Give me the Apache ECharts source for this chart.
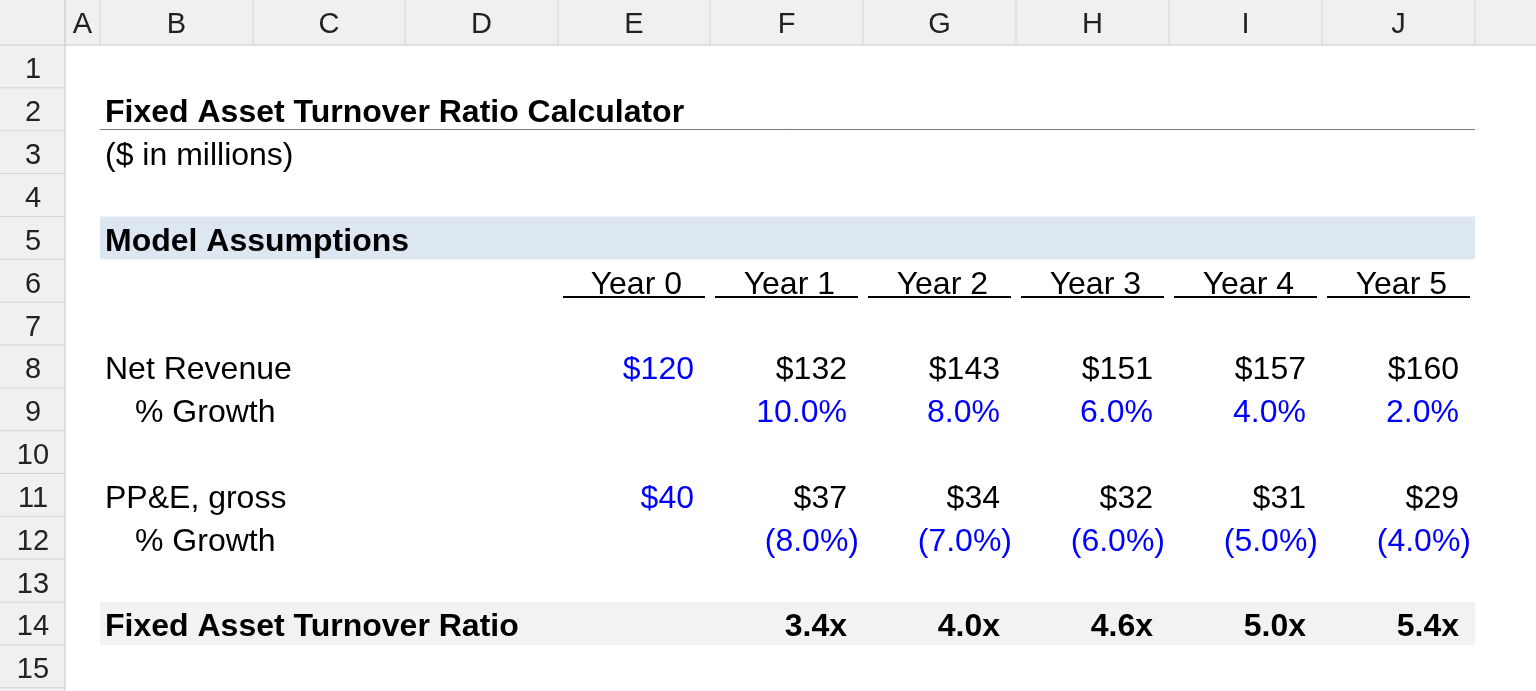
<!DOCTYPE html>
<html>
<head>
<meta charset="UTF-8">
<script src="https://cdn.jsdelivr.net/npm/echarts@6/dist/echarts.min.js"></script>
<style>html,body{margin:0;background:#fff}#c{width:1536px;height:691px}</style>
</head>
<body>
<div id="c"></div>
<script>
// 数据
const colLetters = ['A','B','C','D','E','F','G','H','I','J'];
const years = ['Year 0','Year 1','Year 2','Year 3','Year 4','Year 5'];
const revenue = ['$120','$132','$143','$151','$157','$160'];
const revGrowth = ['','10.0%','8.0%','6.0%','4.0%','2.0%'];
const ppe = ['$40','$37','$34','$32','$31','$29'];
const ppeGrowth = ['','(8.0%)','(7.0%)','(6.0%)','(5.0%)','(4.0%)'];
const turnover = ['','3.4x','4.0x','4.6x','5.0x','5.4x'];

// 网格尺寸
const colEdges = [65,100,253,405,558,710,863,1016,1169,1322,1475];
const headH = 45, rowH = 42.85, font = 'Liberation Sans, Arial, sans-serif';
const rowTop = r => headH + (r - 1) * rowH;
const rowMid = r => rowTop(r) + rowH / 2 + 4;

const g = [];
// 背景条
g.push({type:'rect', shape:{x:100,y:rowTop(5),width:1375,height:rowH}, style:{fill:'#dde7f1'}});
g.push({type:'rect', shape:{x:100,y:rowTop(14),width:1375,height:rowH}, style:{fill:'#f2f2f2'}});
// 表头
g.push({type:'rect', shape:{x:0,y:0,width:1536,height:headH}, style:{fill:'#f0f0f0'}});
g.push({type:'rect', shape:{x:0,y:0,width:65,height:691}, style:{fill:'#f0f0f0'}});
g.push({type:'line', shape:{x1:0,y1:headH,x2:1536,y2:headH}, style:{stroke:'#c8c8c8',lineWidth:1}});
g.push({type:'line', shape:{x1:65,y1:0,x2:65,y2:691}, style:{stroke:'#c8c8c8',lineWidth:1}});
colEdges.forEach(x => g.push({type:'line', shape:{x1:x,y1:0,x2:x,y2:headH}, style:{stroke:'#d4d4d4',lineWidth:1}}));
colLetters.forEach((c, i) => g.push({type:'text', x:(colEdges[i]+colEdges[i+1])/2, y:headH/2 + 2,
  style:{text:c, font:'29px '+font, fill:'#222', align:'center', verticalAlign:'middle'}}));
for (let r = 1; r <= 15; r++) {
  g.push({type:'line', shape:{x1:0,y1:rowTop(r+1),x2:65,y2:rowTop(r+1)}, style:{stroke:'#d4d4d4',lineWidth:1}});
  g.push({type:'text', x:33, y:rowMid(r), style:{text:String(r), font:'29px '+font, fill:'#222', align:'center', verticalAlign:'middle'}});
}

const txt = (t, x, y, opt) => g.push({type:'text', x, y, style:Object.assign({text:t, font:'32px '+font, fill:'#000', align:'left', verticalAlign:'middle'}, opt||{})});

txt('Fixed Asset Turnover Ratio Calculator', 105, rowMid(2), {font:'bold 32px '+font});
g.push({type:'line', shape:{x1:100,y1:129.5,x2:1475,y2:129.5}, style:{stroke:'#777',lineWidth:1}});
txt('($ in millions)', 105, rowMid(3));
txt('Model Assumptions', 105, rowMid(5), {font:'bold 32px '+font});
txt('Net Revenue', 105, rowMid(8));
txt('% Growth', 135, rowMid(9));
txt('PP&E, gross', 105, rowMid(11));
txt('% Growth', 135, rowMid(12));
txt('Fixed Asset Turnover Ratio', 105, rowMid(14), {font:'bold 32px '+font});

const cell = (t, i, r, color, bold) => {
  if (!t) return;
  const right = colEdges[i + 5];
  const x = t.startsWith('(') ? right - 4 : right - 16;
  txt(t, x, rowMid(r), {align:'right', fill:color, font:(bold ? 'bold ' : '') + '32px ' + font});
};
years.forEach((y, i) => {
  const l = colEdges[i + 4], rgt = colEdges[i + 5];
  txt(y, rgt - 28, rowMid(6), {align:'right'});
  g.push({type:'line', shape:{x1:l+5,y1:297,x2:rgt-5,y2:297}, style:{stroke:'#000',lineWidth:2}});
  cell(revenue[i], i, 8, i === 0 ? '#0000ff' : '#000');
  cell(revGrowth[i], i, 9, '#0000ff');
  cell(ppe[i], i, 11, i === 0 ? '#0000ff' : '#000');
  cell(ppeGrowth[i], i, 12, '#0000ff');
  cell(turnover[i], i, 14, '#000', true);
});

const chart = echarts.init(document.getElementById('c'));
chart.setOption({animation:false, graphic:g});
</script>
</body>
</html>
